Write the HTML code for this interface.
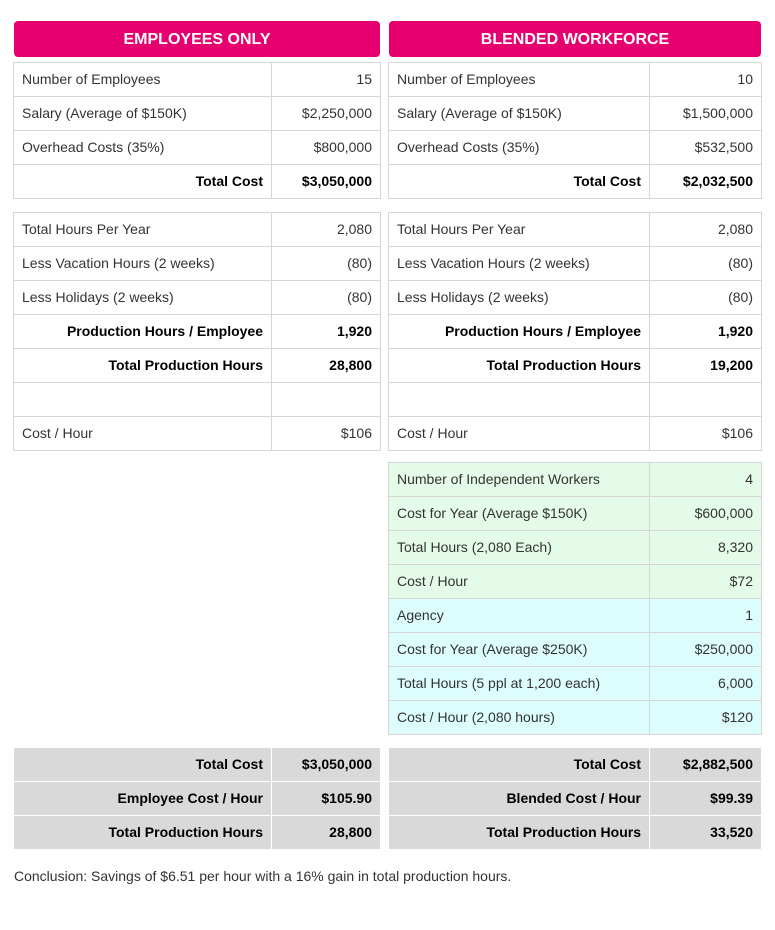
<!DOCTYPE html>
<html><head><meta charset="utf-8"><style>
body{margin:0;width:775px;height:930px;background:#fff;font-family:"Liberation Sans",sans-serif;position:relative;overflow:hidden}
.h{position:absolute;top:21px;height:36px;background:#e6006f;color:#fff;font-weight:bold;font-size:16px;text-align:center;line-height:38px;border-radius:4px}
table{position:absolute;border-collapse:collapse;font-size:14px;color:#333;table-layout:fixed}
td{border:1px solid #d6d6d6;height:31px;padding:0 8px 2px 8px;white-space:nowrap;overflow:hidden}
td.v{text-align:right}
tr.b td{font-weight:bold;color:#000}
tr.b td:first-child{text-align:right}
.g td{background:#e4fbe9}
.c td{background:#ddfdfd}
table.gr td{background:#d9d9d9;border:1px solid #fff;font-weight:bold;color:#000;text-align:right}
table.gr{border:1px solid #d9d9d9}
.L{left:13px;width:367px}
.R{left:388px;width:373px}
.L col.a{width:258px}.L col.b{width:109px}
.R col.a{width:261px}.R col.b{width:112px}
p{position:absolute;left:14px;top:868px;margin:0;font-size:14px;color:#333}
</style></head><body>
<div class="h" style="left:14px;width:366px">EMPLOYEES ONLY</div>
<div class="h" style="left:389px;width:372px">BLENDED WORKFORCE</div>

<table class="L" style="top:62px"><col class="a"><col class="b">
<tr><td>Number of Employees</td><td class="v">15</td></tr>
<tr><td>Salary (Average of $150K)</td><td class="v">$2,250,000</td></tr>
<tr><td>Overhead Costs (35%)</td><td class="v">$800,000</td></tr>
<tr class="b"><td>Total Cost</td><td class="v">$3,050,000</td></tr>
</table>
<table class="R" style="top:62px"><col class="a"><col class="b">
<tr><td>Number of Employees</td><td class="v">10</td></tr>
<tr><td>Salary (Average of $150K)</td><td class="v">$1,500,000</td></tr>
<tr><td>Overhead Costs (35%)</td><td class="v">$532,500</td></tr>
<tr class="b"><td>Total Cost</td><td class="v">$2,032,500</td></tr>
</table>

<table class="L" style="top:212px"><col class="a"><col class="b">
<tr><td>Total Hours Per Year</td><td class="v">2,080</td></tr>
<tr><td>Less Vacation Hours (2 weeks)</td><td class="v">(80)</td></tr>
<tr><td>Less Holidays (2 weeks)</td><td class="v">(80)</td></tr>
<tr class="b"><td>Production Hours / Employee</td><td class="v">1,920</td></tr>
<tr class="b"><td>Total Production Hours</td><td class="v">28,800</td></tr>
<tr><td></td><td></td></tr>
<tr><td>Cost / Hour</td><td class="v">$106</td></tr>
</table>
<table class="R" style="top:212px"><col class="a"><col class="b">
<tr><td>Total Hours Per Year</td><td class="v">2,080</td></tr>
<tr><td>Less Vacation Hours (2 weeks)</td><td class="v">(80)</td></tr>
<tr><td>Less Holidays (2 weeks)</td><td class="v">(80)</td></tr>
<tr class="b"><td>Production Hours / Employee</td><td class="v">1,920</td></tr>
<tr class="b"><td>Total Production Hours</td><td class="v">19,200</td></tr>
<tr><td></td><td></td></tr>
<tr><td>Cost / Hour</td><td class="v">$106</td></tr>
</table>

<table class="R" style="top:462px"><col class="a"><col class="b">
<tr class="g"><td>Number of Independent Workers</td><td class="v">4</td></tr>
<tr class="g"><td>Cost for Year (Average $150K)</td><td class="v">$600,000</td></tr>
<tr class="g"><td>Total Hours (2,080 Each)</td><td class="v">8,320</td></tr>
<tr class="g"><td>Cost / Hour</td><td class="v">$72</td></tr>
<tr class="c"><td>Agency</td><td class="v">1</td></tr>
<tr class="c"><td>Cost for Year (Average $250K)</td><td class="v">$250,000</td></tr>
<tr class="c"><td>Total Hours (5 ppl at 1,200 each)</td><td class="v">6,000</td></tr>
<tr class="c"><td>Cost / Hour (2,080 hours)</td><td class="v">$120</td></tr>
</table>

<table class="L gr" style="top:747px"><col class="a"><col class="b">
<tr><td>Total Cost</td><td>$3,050,000</td></tr>
<tr><td>Employee Cost / Hour</td><td>$105.90</td></tr>
<tr><td>Total Production Hours</td><td>28,800</td></tr>
</table>
<table class="R gr" style="top:747px"><col class="a"><col class="b">
<tr><td>Total Cost</td><td>$2,882,500</td></tr>
<tr><td>Blended Cost / Hour</td><td>$99.39</td></tr>
<tr><td>Total Production Hours</td><td>33,520</td></tr>
</table>

<p>Conclusion: Savings of $6.51 per hour with a 16% gain in total production hours.</p>
</body></html>
